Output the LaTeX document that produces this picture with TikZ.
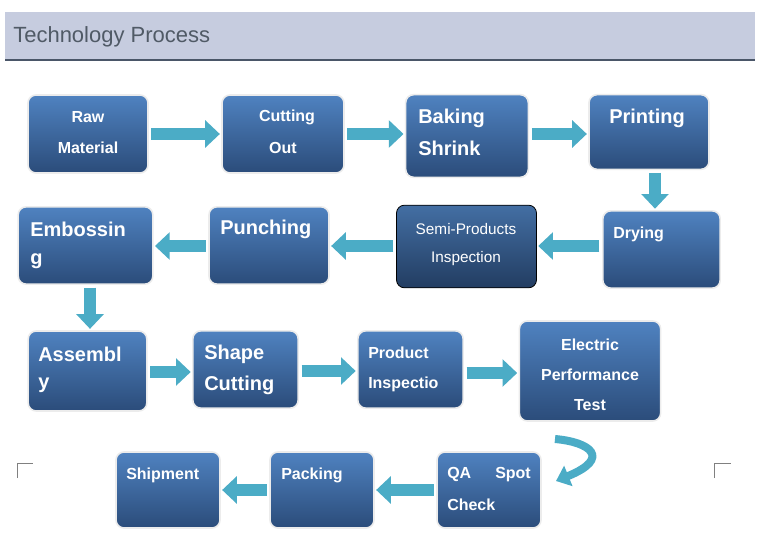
\documentclass[tikz,border=0pt]{standalone}
\usepackage{fontspec}
\setmainfont{Liberation Sans}
\usetikzlibrary{arrows.meta}
\definecolor{hdr}{HTML}{C6CCDF}
\definecolor{hline}{HTML}{4A5668}
\definecolor{ttl}{HTML}{505A66}
\definecolor{btop}{HTML}{4F82C0}
\definecolor{bbot}{HTML}{2B4C7A}
\definecolor{teal}{HTML}{4BACC6}
\tikzset{
  box/.style={rounded corners=6pt, top color=btop, bottom color=bbot, draw=white!85!gray, line width=1.2pt, inner sep=0},
  semi/.style={box, top color=btop!85!black, bottom color=bbot!80!black, draw=black, line width=0.6pt},
  t/.style={text=white, font=\bfseries\fontsize{12}{14}\selectfont, inner sep=0},
  tb/.style={text=white, font=\bfseries\fontsize{15}{17}\selectfont, inner sep=0},
  tn/.style={text=white, font=\fontsize{11.5}{14}\selectfont, inner sep=0},
  ar/.style={draw=teal, line width=9pt, -{Triangle[width=20pt,length=11pt]}, shorten <=2pt, shorten >=1pt},
}
\begin{document}
\begin{tikzpicture}[x=0.75pt,y=-0.75pt]
\useasboundingbox (0,0) rectangle (763,541);
\fill[white] (0,0) rectangle (763,541);
% header
\fill[hdr] (5,12) rectangle (755,60);
\draw[hline, line width=1.3pt] (5,60) -- (755,60);
\node[anchor=west, text=ttl, font=\fontsize{16.5}{18}\selectfont, inner sep=0] (title) at (13,37) {Technology Process};
% corner marks
\draw[gray, line width=0.6pt] (17,478) -- (17,463) -- (33,463);
\draw[gray, line width=0.6pt] (714,478) -- (714,463) -- (731,463);
% boxes
\node[box, minimum width=90pt, minimum height=58.5pt] (raw) at (88,134) {};
\node[box, minimum width=91.5pt, minimum height=58.5pt] (cut) at (283,134) {};
\node[box, minimum width=92pt, minimum height=62pt] (bak) at (467,136) {};
\node[box, minimum width=90pt, minimum height=56pt] (pri) at (649,132) {};
\node[box, minimum width=101pt, minimum height=58pt] (emb) at (85.5,245.5) {};
\node[box, minimum width=90pt, minimum height=58pt] (pun) at (269,245.5) {};
\node[semi, minimum width=105pt, minimum height=62pt] (sem) at (466.5,246.5) {};
\node[box, minimum width=88pt, minimum height=58pt] (dry) at (661.5,249.5) {};
\node[box, minimum width=89pt, minimum height=60pt] (ass) at (87.5,371) {};
\node[box, minimum width=79pt, minimum height=58pt] (shp) at (245.5,369.5) {};
\node[box, minimum width=79pt, minimum height=58pt] (prd) at (410.5,369.5) {};
\node[box, minimum width=106pt, minimum height=75pt] (ele) at (590,371) {};
\node[box, minimum width=78pt, minimum height=57pt] (shi) at (168,490) {};
\node[box, minimum width=78pt, minimum height=57pt] (pac) at (322,490) {};
\node[box, minimum width=78pt, minimum height=57pt] (qa) at (489,490) {};
% texts
\node[t] (raw1) at (88,117) {Raw};
\node[t] (raw2) at (88,148) {Material};
\node[t] (cut1) at (287,117) {Cutting};
\node[t] (cut2) at (283,148) {Out};
\node[tb, anchor=west] (bak1) at (418,118) {Baking};
\node[tb, anchor=west] (bak2) at (418,148) {Shrink};
\node[tb, anchor=west] (pri1) at (609,118) {Printing};
\node[tb, anchor=west] (emb1) at (30,229) {Embossin};
\node[tb, anchor=west] (emb2) at (30,261) {g};
\node[tb, anchor=west] (pun1) at (220,229) {Punching};
\node[tn] (sem1) at (466,229) {Semi-Products};
\node[tn] (sem2) at (466,259) {Inspection};
\node[t, anchor=west] (dry1) at (613,234) {Drying};
\node[tb, anchor=west] (ass1) at (38,354) {Assembl};
\node[tb, anchor=west] (ass2) at (38,385) {y};
\node[tb, anchor=west] (shp1) at (204,354) {Shape};
\node[tb, anchor=west] (shp2) at (204,385) {Cutting};
\node[t, anchor=west] (prd1) at (368,353) {Product};
\node[t, anchor=west] (prd2) at (368,384) {Inspectio};
\node[t] (ele1) at (590,345) {Electric};
\node[t] (ele2) at (590,375) {Performance};
\node[t] (ele3) at (590,405) {Test};
\node[t, anchor=west] (shi1) at (126,475) {Shipment};
\node[t, anchor=west] (pac1) at (281,475) {Packing};
\node[t, anchor=west] (qa1) at (447,475) {QA\hspace{18pt}Spot};
\node[t, anchor=west] (qa2) at (447,505) {Check};
% arrows
\draw[ar] (raw.east) -- (raw.east -| cut.west);
\draw[ar] (cut.east) -- (cut.east -| bak.west);
\draw[ar] (bak.east |- cut.east) -- (cut.east -| pri.west);
\draw[ar] (pri.south -| 655,0) -- (dry.north -| 655,0);
\draw[ar] (dry.west |- 0,246) -- (sem.east |- 0,246);
\draw[ar] (sem.west |- 0,246) -- (pun.east |- 0,246);
\draw[ar] (pun.west |- 0,246) -- (emb.east |- 0,246);
\draw[ar] (emb.south -| 90,0) -- (ass.north -| 90,0);
\draw[ar] (ass.east |- 0,372) -- (shp.west |- 0,372);
\draw[ar] (shp.east |- 0,371) -- (prd.west |- 0,371);
\draw[ar] (prd.east |- 0,373) -- (ele.west |- 0,373);
\draw[ar] (qa.west) -- (qa.west -| pac.east);
\draw[ar] (pac.west) -- (pac.west -| shi.east);
% curved arrow
\coordinate (cs) at (555,439);
\coordinate (ce) at (556,481);
\draw[teal, line width=6pt, -{Triangle[width=16pt,length=10pt]}] (cs) .. controls (590,442) and (612,458) .. (ce);
\end{tikzpicture}
\end{document}
